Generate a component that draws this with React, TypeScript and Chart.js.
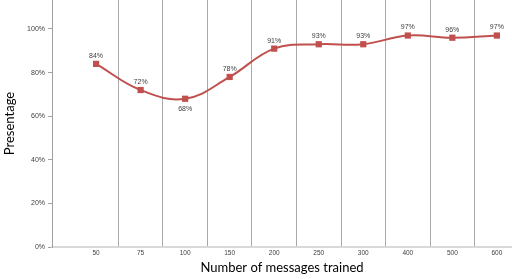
import { useEffect, useRef } from "react";
import { Chart, registerables } from "chart.js";

Chart.register(...registerables);

const categories = ["50", "75", "100", "150", "200", "250", "300", "400", "500", "600"];
const accuracy = [84, 72, 68, 78, 91, 93, 93, 97, 96, 97];
const yTickValues = [0, 20, 40, 60, 80, 100];
const labelsBelow = [2];

const RED = "#C0504D";
const X_MIN = -0.99;
const X_MAX = 9.34;

const dataLabelPlugin = {
  id: "dataLabels",
  afterDatasetsDraw(chart: any) {
    const ctx = chart.ctx;
    const meta = chart.getDatasetMeta(0);
    ctx.save();
    ctx.font = "7px 'Liberation Sans', sans-serif";
    ctx.fillStyle = "#404040";
    ctx.textAlign = "center";
    ctx.textBaseline = "middle";
    meta.data.forEach((el: any, i: number) => {
      const below = labelsBelow.includes(i);
      ctx.fillText(`${accuracy[i]}%`, el.x, below ? el.y + 10 : el.y - 8);
    });
    ctx.restore();
  },
};

export default function App() {
  const canvasRef = useRef<HTMLCanvasElement | null>(null);

  useEffect(() => {
    const canvas = canvasRef.current;
    if (!canvas) return;
    const chart = new Chart(canvas, {
      type: "line",
      data: {
        datasets: [
          {
            data: accuracy.map((v, i) => ({ x: i, y: v })),
            borderColor: RED,
            backgroundColor: RED,
            borderWidth: 2,
            tension: 0.4,
            pointStyle: "rect",
            pointRadius: 4.4,
            pointBorderWidth: 0,
            pointBackgroundColor: RED,
            fill: false,
            clip: false,
          },
        ],
      },
      options: {
        responsive: false,
        animation: false,
        devicePixelRatio: 1,
        layout: { padding: 0, autoPadding: false },
        plugins: {
          legend: { display: false },
          tooltip: { enabled: false },
        },
        scales: {
          x: {
            type: "linear",
            position: "bottom",
            min: X_MIN,
            max: X_MAX,
            afterBuildTicks: (scale: any) => {
              scale.ticks = categories.map((_, i) => ({ value: i }));
            },
            afterFit: (scale: any) => {
              scale.height = 32;
              scale.paddingLeft = 0;
              scale.paddingRight = 0;
            },
            ticks: {
              autoSkip: false,
              maxRotation: 0,
              minRotation: 0,
              padding: 2,
              font: { family: "'Liberation Sans', sans-serif", size: 6.5 },
              color: "#404040",
              callback: (v: any) => categories[Math.round(Number(v))] ?? "",
            },
            grid: { display: false, drawTicks: false, tickLength: 0 },
            border: { display: true, color: "#d9d9d9", width: 2 },
            title: {
              display: true,
              text: "Number of messages trained",
              font: { family: "Lato, sans-serif", size: 13 },
              color: "#000000",
              padding: { top: 0, bottom: 3 },
            },
          },
          xg: {
            type: "linear",
            position: "top",
            min: X_MIN,
            max: X_MAX,
            afterBuildTicks: (scale: any) => {
              scale.ticks = categories.slice(0, -1).map((_, i) => ({ value: i + 0.5 }));
            },
            afterFit: (scale: any) => {
              scale.height = 0;
              scale.paddingLeft = 0;
              scale.paddingRight = 0;
            },
            ticks: { display: false },
            grid: { color: "#aaaaaa", lineWidth: 1, drawTicks: false },
            border: { display: false },
          },
          y: {
            type: "linear",
            position: "left",
            min: 0,
            max: 113.3,
            afterBuildTicks: (scale: any) => {
              scale.ticks = yTickValues.map((v) => ({ value: v }));
            },
            afterFit: (scale: any) => {
              scale.width = 52;
              scale.paddingTop = 0;
              scale.paddingBottom = 0;
            },
            ticks: {
              padding: 3,
              font: { family: "'Liberation Sans', sans-serif", size: 7 },
              color: "#404040",
              callback: (v: any) => `${v}%`,
            },
            grid: {
              drawOnChartArea: false,
              drawTicks: true,
              tickLength: 4,
              color: "#a0a0a0",
            },
            border: { display: true, color: "#a0a0a0", width: 1 },
            title: {
              display: true,
              text: "Presentage",
              font: { family: "Lato, sans-serif", size: 13 },
              color: "#000000",
              padding: { top: 2, bottom: 0 },
            },
          },
        },
      },
      plugins: [dataLabelPlugin],
    });
    return () => chart.destroy();
  }, []);

  return (
    <div
      style={{
        position: "fixed",
        left: 0,
        top: 0,
        width: 512,
        height: 279,
        overflow: "hidden",
        background: "#ffffff",
      }}
    >
      <canvas ref={canvasRef} width={512} height={279} style={{ display: "block" }} />
    </div>
  );
}
